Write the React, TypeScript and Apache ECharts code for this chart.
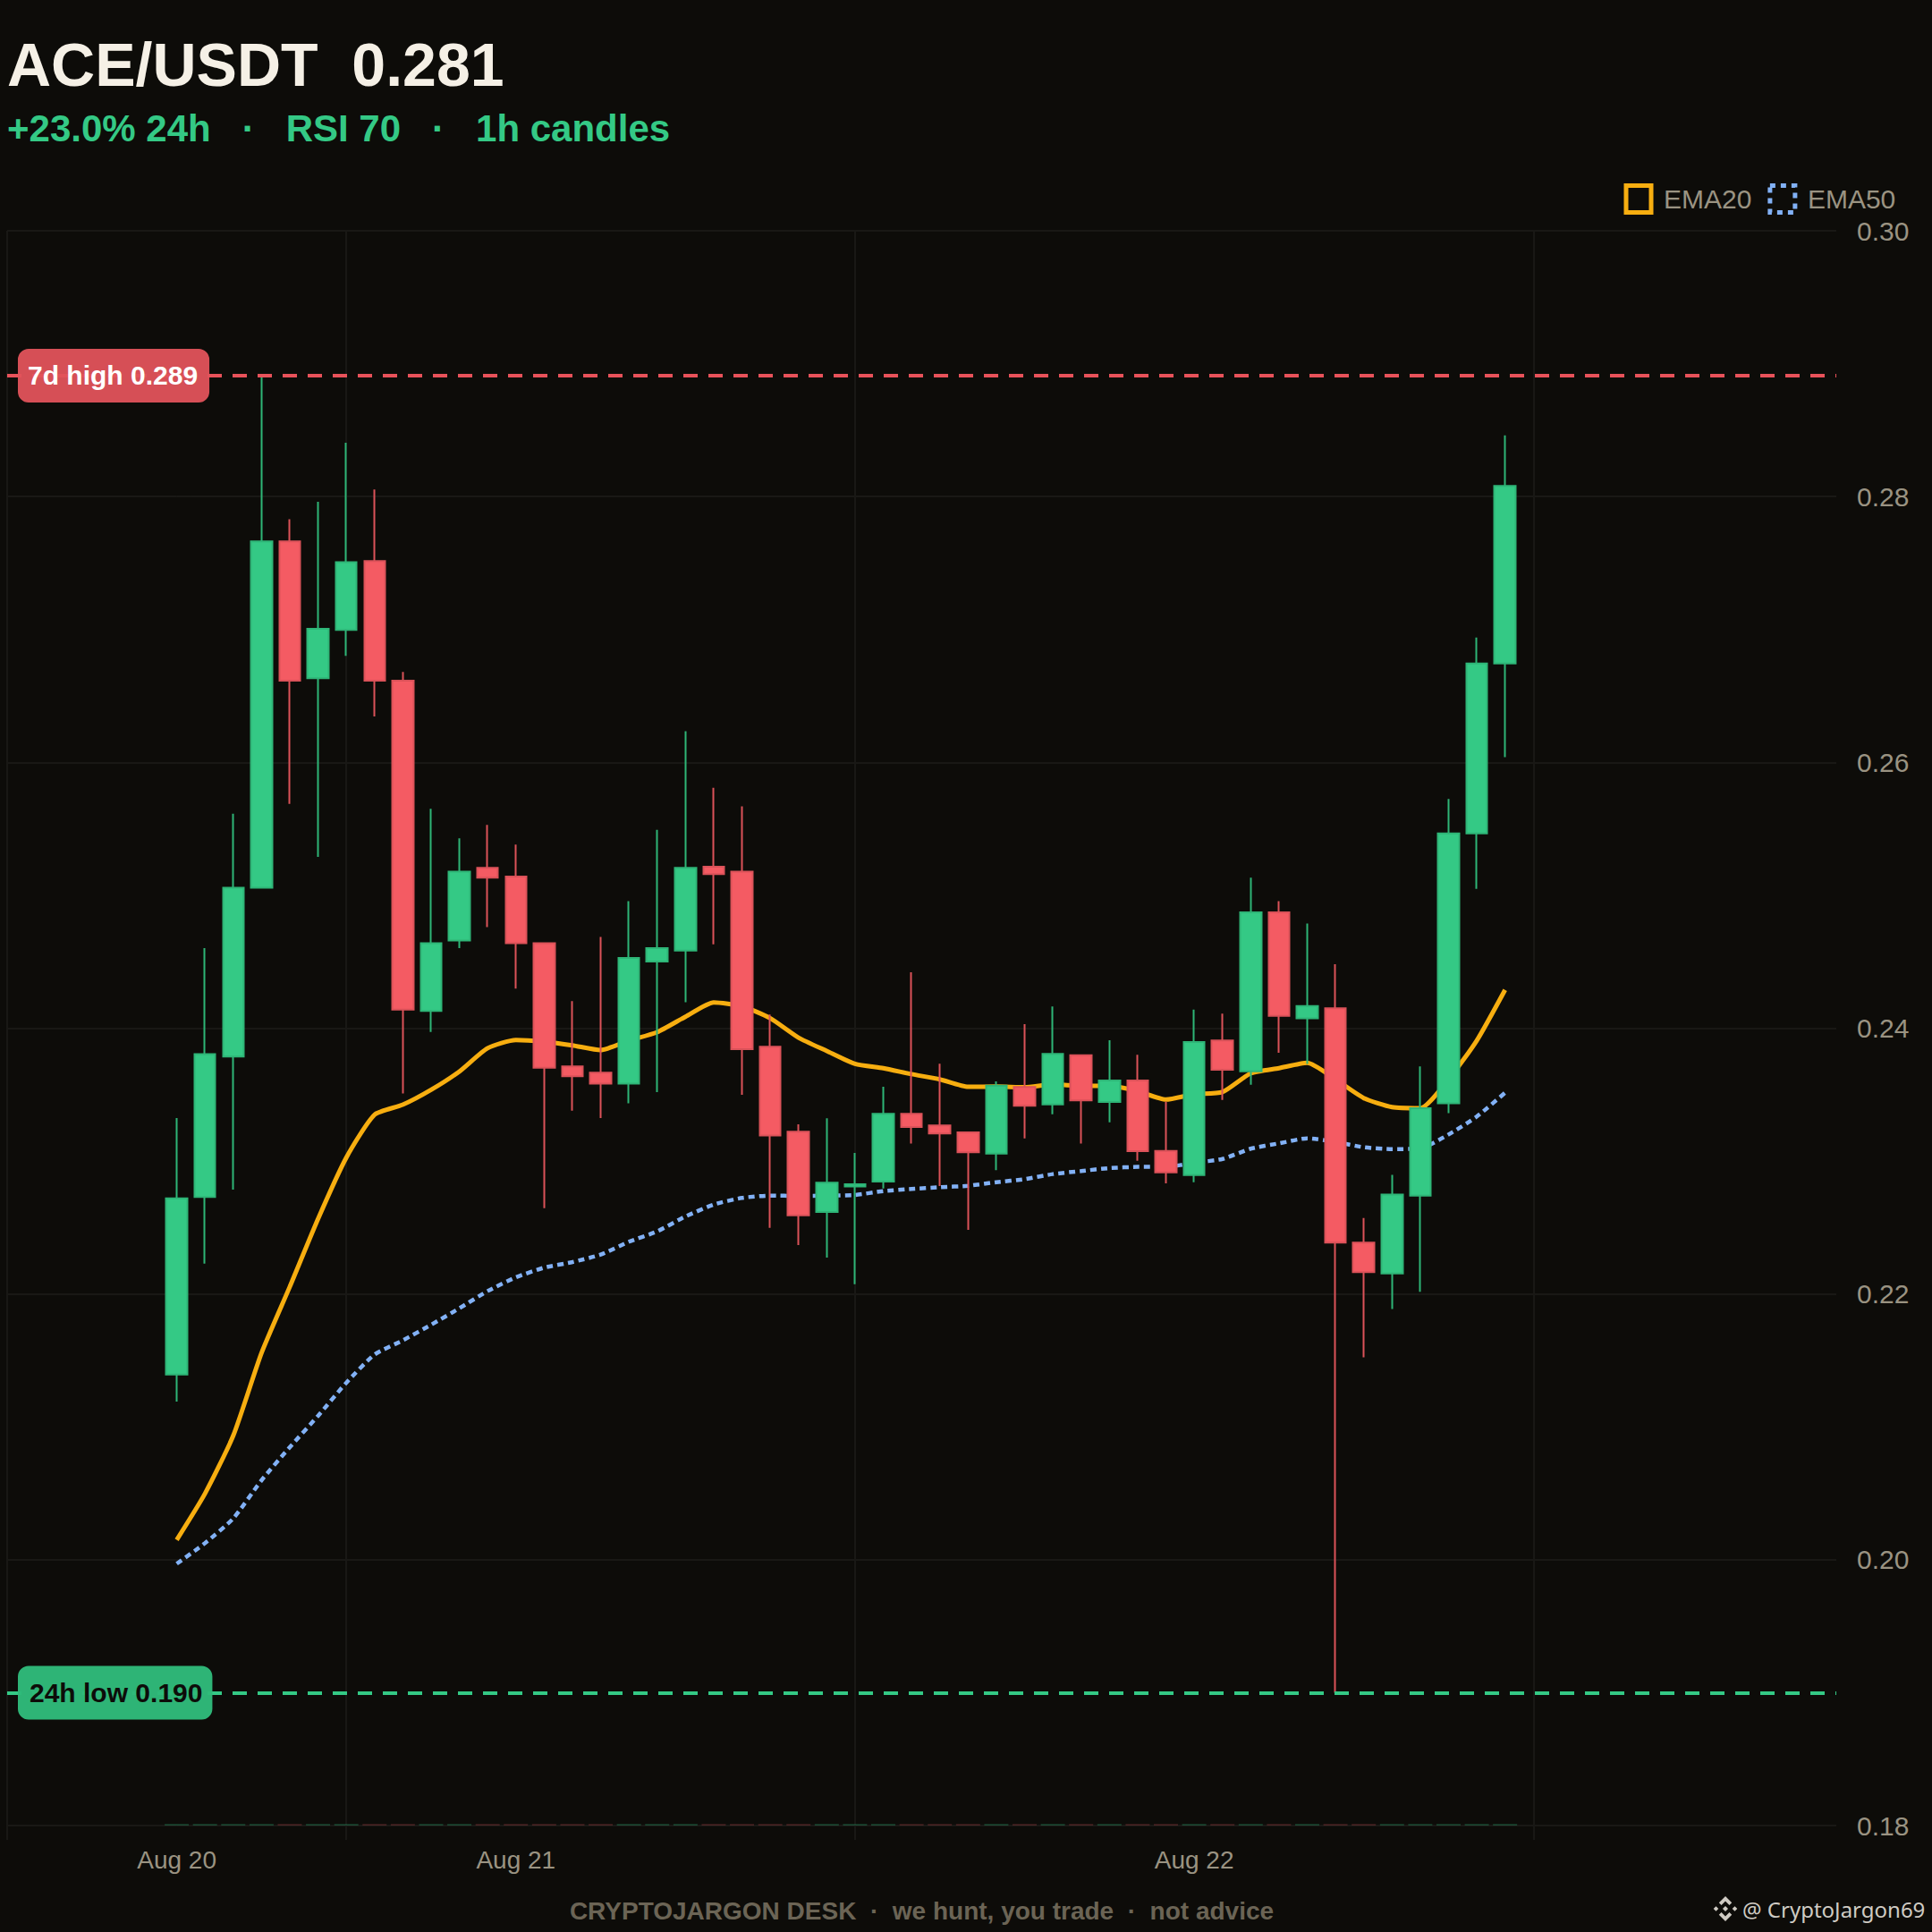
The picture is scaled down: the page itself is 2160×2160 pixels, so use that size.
import React, { useEffect, useRef } from "react";
import * as echarts from "echarts";

const opens = [0.21394,0.2273,0.23787,0.25057,0.27663,0.26634,0.26996,0.27515,0.26615,0.2413,0.24659,0.25206,0.25141,0.2464,0.23713,0.23666,0.23583,0.24501,0.24584,0.25215,0.25178,0.23861,0.23221,0.22617,0.22808,0.22846,0.23355,0.23268,0.23216,0.23056,0.23557,0.23427,0.23797,0.23445,0.23606,0.23077,0.22895,0.23907,0.23675,0.24872,0.24074,0.24149,0.22386,0.22155,0.22739,0.23434,0.25465,0.26745];
const closes = [0.2272,0.23805,0.25057,0.27663,0.26615,0.27005,0.27506,0.26615,0.24139,0.2464,0.25178,0.25132,0.2464,0.23703,0.23638,0.23583,0.24529,0.24603,0.25206,0.25159,0.23842,0.23193,0.22591,0.22837,0.22826,0.23355,0.23256,0.23207,0.23066,0.23568,0.23416,0.23806,0.23456,0.23606,0.23075,0.22915,0.23896,0.23687,0.24872,0.24093,0.24167,0.22386,0.22164,0.22748,0.23397,0.25465,0.26745,0.28081];
const lows = [0.2119,0.22229,0.22785,0.25057,0.25688,0.25289,0.26801,0.26346,0.23509,0.23972,0.24603,0.24761,0.24297,0.22646,0.23379,0.23323,0.23434,0.23518,0.24195,0.24631,0.23499,0.22498,0.22368,0.22274,0.22074,0.22794,0.23131,0.22812,0.22482,0.22931,0.23171,0.23353,0.23131,0.23292,0.23003,0.22832,0.22841,0.2346,0.23574,0.23815,0.23731,0.19,0.21524,0.21886,0.22016,0.2336,0.25048,0.2604];
const highs = [0.23323,0.24603,0.25614,0.2891,0.2783,0.2796,0.28405,0.28053,0.2668,0.25651,0.25428,0.2553,0.25382,0.2464,0.24204,0.24686,0.24955,0.25493,0.26235,0.25808,0.25669,0.24102,0.23277,0.23322,0.23061,0.23559,0.24421,0.23732,0.23216,0.236,0.2403,0.24163,0.23797,0.23909,0.238,0.23447,0.2414,0.24109,0.25132,0.24955,0.24788,0.24482,0.22572,0.22897,0.23713,0.25725,0.2694,0.28461];
const ema20 = [0.2015,0.20498,0.20934,0.21556,0.22054,0.22565,0.23026,0.23349,0.23424,0.23536,0.23674,0.23849,0.23911,0.23898,0.23871,0.23835,0.23907,0.2397,0.24086,0.24194,0.24165,0.24075,0.23929,0.23829,0.23732,0.23699,0.23654,0.23615,0.23559,0.23561,0.23555,0.23577,0.23566,0.23566,0.23526,0.23463,0.23503,0.23519,0.2366,0.23699,0.23739,0.23615,0.23474,0.23406,0.23398,0.23615,0.23907,0.24288];
const ema50 = [0.1997,0.20125,0.20311,0.20598,0.20847,0.21083,0.21332,0.21544,0.21651,0.21768,0.21892,0.22022,0.22125,0.22198,0.2224,0.22296,0.22393,0.22471,0.22583,0.22673,0.22723,0.2274,0.22738,0.2274,0.22745,0.22774,0.2279,0.22803,0.22814,0.22841,0.22864,0.22902,0.22925,0.22947,0.22956,0.22956,0.22987,0.23016,0.23093,0.23133,0.23171,0.23144,0.23104,0.2309,0.23095,0.232,0.23335,0.23514];
const volumes = [1,1,1,1,1,1,1,1,1,1,1,1,1,1,1,1,1,1,1,1,1,1,1,1,1,1,1,1,1,1,1,1,1,1,1,1,1,1,1,1,1,1,1,1,1,1,1,1];
const gridTickHours = [-6, 6, 24, 48];
const dayLabelHours = [0, 12, 36];
const dayLabels = ["Aug 20", "Aug 21", "Aug 22"];
const priceTicksMin = 0.18;
const priceTicksMax = 0.3;
const high7d = 0.2891;
const low24h = 0.19;

const BG = "#0d0c09";
const UP = "#34c985";
const UP_EDGE = "#2eb577";
const DOWN = "#f45b63";
const DOWN_EDGE = "#db5259";
const GRID = "#191815";
const TICK = "#9a9382";
const FONT = "'Liberation Sans', Arial, sans-serif";

echarts.graphic.registerShape(
  "binanceMark",
  echarts.graphic.extendPath(
    "M12 0L18.2 6.2L15.8 8.6L12 4.8L8.2 8.6L5.8 6.2ZM12 24L5.8 17.8L8.2 15.4L12 19.2L15.8 15.4L18.2 17.8ZM12 9.4L14.6 12L12 14.6L9.4 12ZM3 9.6L5.4 12L3 14.4L0.6 12ZM21 9.6L23.4 12L21 14.4L18.6 12Z",
    {}
  ) as any
);

export default function App() {
  const ref = useRef<HTMLDivElement>(null);
  useEffect(() => {
    document.body.style.margin = "0";
    document.body.style.background = BG;
    const chart = echarts.init(ref.current!, undefined, { renderer: "svg" });
    const hours = opens.map((_, i) => i);
    const option: any = {
      animation: false,
      backgroundColor: BG,
      textStyle: { fontFamily: FONT },
      grid: { left: 8, right: 107, top: 258, bottom: 119, containLabel: false },
      legend: {
        show: true,
        left: 1810.5,
        top: 200,
        itemWidth: 28,
        itemHeight: 30,
        itemGap: 18,
        textStyle: { color: TICK, fontSize: 30, fontFamily: FONT, padding: [0, 0, 0, 9] },
        data: [
          { name: "EMA20", icon: "rect", itemStyle: { color: "transparent", borderColor: "#f7ae10", borderWidth: 5 } },
          { name: "EMA50", icon: "rect", itemStyle: { color: "transparent", borderColor: "#82b1f5", borderWidth: 5, borderType: [6, 6] } },
        ],
      },
      xAxis: {
        type: "value",
        min: -6,
        max: 58.72,
        axisLine: { show: false },
        axisTick: { show: true, length: 16, customValues: gridTickHours, lineStyle: { color: GRID, width: 2 } },
        splitLine: { show: true, lineStyle: { color: GRID, width: 2 } },
        axisLabel: {
          customValues: dayLabelHours,
          color: TICK,
          fontSize: 28,
          fontFamily: FONT,
          margin: 24,
          formatter: (v: number) => dayLabels[dayLabelHours.indexOf(v)] ?? "",
        },
      },
      yAxis: [
        {
          type: "value",
          position: "right",
          min: priceTicksMin,
          max: priceTicksMax,
          interval: 0.02,
          axisLine: { show: false },
          axisTick: { show: true, length: 16, lineStyle: { color: GRID, width: 2 } },
          splitLine: { show: true, lineStyle: { color: GRID, width: 2 } },
          axisLabel: { color: TICK, fontSize: 30, fontFamily: FONT, margin: 23, padding: [0, 0, 2, 0], formatter: (v: number) => v.toFixed(2) },
        },
        { type: "value", show: false, min: 0, max: 1000, splitLine: { show: false } },
      ],
      series: [
        {
          name: "Volume",
          type: "bar",
          yAxisIndex: 1,
          barWidth: 27,
          z: 1,
          silent: true,
          data: hours.map((h) => ({
            value: [h, volumes[h]],
            itemStyle: { color: closes[h] >= opens[h] ? "rgba(52,201,133,0.28)" : "rgba(244,91,99,0.22)" },
          })),
        },
        {
          name: "EMA20",
          type: "line",
          z: 2,
          smooth: 0.2,
          showSymbol: false,
          lineStyle: { color: "#f7ae10", width: 5 },
          itemStyle: { color: "#f7ae10" },
          data: hours.map((h) => [h, ema20[h]]),
        },
        {
          name: "EMA50",
          type: "line",
          z: 2,
          smooth: 0.2,
          showSymbol: false,
          lineStyle: { color: "#82b1f5", width: 4.5, type: [7, 5] },
          itemStyle: { color: "#82b1f5" },
          data: hours.map((h) => [h, ema50[h]]),
        },
        {
          name: "ACE/USDT",
          type: "candlestick",
          z: 3,
          barWidth: 24,
          encode: { x: 0, y: [1, 2, 3, 4] },
          itemStyle: { color: UP, color0: DOWN, borderColor: UP_EDGE, borderColor0: DOWN_EDGE, borderWidth: 2 },
          data: hours.map((h) => [h, opens[h], closes[h], lows[h], highs[h]]),
          markLine: {
            silent: true,
            symbol: "none",
            precision: 4,
            z: 5,
            data: [
              {
                yAxis: high7d,
                lineStyle: { color: "#e8525a", width: 4, type: [16, 12] },
                label: {
                  show: true,
                  position: "insideStartTop",
                  distance: [12, 0],
                  verticalAlign: "middle",
                  formatter: "7d high 0.289",
                  color: "#ffffff",
                  fontFamily: FONT,
                  fontWeight: "bold",
                  fontSize: 30,
                  backgroundColor: "rgba(226,83,91,0.95)",
                  borderRadius: 12,
                  padding: [15, 13, 15, 11],
                },
              },
              {
                yAxis: low24h,
                lineStyle: { color: "#34c985", width: 4, type: [16, 12] },
                label: {
                  show: true,
                  position: "insideStartTop",
                  distance: [12, 0],
                  verticalAlign: "middle",
                  formatter: "24h low 0.190",
                  color: BG,
                  fontFamily: FONT,
                  fontWeight: "bold",
                  fontSize: 30,
                  backgroundColor: "rgba(47,186,122,0.97)",
                  borderRadius: 12,
                  padding: [15, 11, 15, 13],
                },
              },
            ],
          },
        },
      ],
      graphic: [
        { type: "text", x: 8, y: 72, style: { text: "ACE/USDT  0.281", fill: "#f5f0e6", font: `bold 68px ${FONT}`, textVerticalAlign: "middle" } },
        { type: "text", x: 8, y: 143, style: { text: "+23.0% 24h   ·   RSI 70   ·   1h candles", fill: UP, font: `bold 42px ${FONT}`, textVerticalAlign: "middle" } },
        { type: "text", x: 1030.5, y: 2136, style: { text: "CRYPTOJARGON DESK  ·  we hunt, you trade  ·  not advice", fill: "#6b6455", font: `bold 28px ${FONT}`, textAlign: "center", textVerticalAlign: "middle" } },
        { type: "binanceMark", x: 1915, y: 2120, scaleX: 28 / 24, scaleY: 28 / 24, style: { fill: "#cfcbc3" } },
        { type: "text", x: 1948, y: 2134, style: { text: "@ CryptoJargon69", fill: "#cfcbc3", font: "24px 'Noto Sans'", textVerticalAlign: "middle" } },
      ],
    };
    chart.setOption(option);
    return () => chart.dispose();
  }, []);
  return <div ref={ref} style={{ position: "absolute", left: 0, top: 0, width: 2160, height: 2160, background: BG }} />;
}
